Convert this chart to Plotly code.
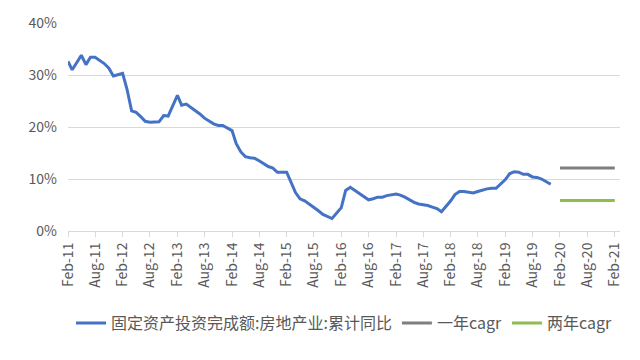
import plotly.graph_objects as go

years = list(range(2011, 2020))
months = [2, 3, 4, 5, 6, 7, 8, 9, 10, 11, 12]  # Jan is merged into Feb

v2011 = [32.6, 31.0, 32.4, 33.8, 32.0, 33.4, 33.4, 32.7, 32.2, 31.3, 29.8]
v2012 = [30.3, 27.3, 23.1, 22.8, 22.0, 21.1, 20.9, 20.9, 21.0, 22.2, 22.1]
v2013 = [26.1, 24.2, 24.4, 23.8, 23.1, 22.5, 21.7, 21.1, 20.6, 20.3, 20.3]
v2014 = [19.3, 16.8, 15.2, 14.3, 14.1, 14.0, 13.5, 12.9, 12.4, 12.1, 11.3]
v2015 = [11.3, 9.3, 7.4, 6.2, 5.8, 5.2, 4.6, 3.9, 3.2, 2.8, 2.4]
v2016 = [4.5, 7.8, 8.4, 7.8, 7.2, 6.6, 6.0, 6.2, 6.5, 6.5, 6.8]
v2017 = [7.1, 6.9, 6.5, 6.0, 5.5, 5.2, 5.1, 4.9, 4.6, 4.3, 3.7]
v2018 = [5.8, 7.0, 7.6, 7.6, 7.4, 7.3, 7.6, 7.9, 8.1, 8.2, 8.2]
v2019 = [9.9, 11.0, 11.4, 11.3, 10.9, 10.9, 10.4, 10.3, 10.0, 9.5, 9.0]
yearly = [v2011, v2012, v2013, v2014, v2015, v2016, v2017, v2018, v2019]

cagr_dates = ["2020-02-01", "2021-02-01"]
cagr1 = [12.1, 12.1]
cagr2 = [5.85, 5.85]

names = ["固定资产投资完成额:房地产业:累计同比", "一年cagr", "两年cagr"]
colors = ["#4472C4", "#7F7F7F", "#8FBC4F"]

dates, values = [], []
for y, vals in zip(years, yearly):
    for m, v in zip(months, vals):
        dates.append(f"{y}-{m:02d}-01")
        values.append(v / 100)

font = "Noto Sans CJK SC, Noto Sans, sans-serif"
fig = go.Figure()
fig.add_trace(go.Scatter(x=dates, y=values, mode="lines", name=names[0],
                         line=dict(color=colors[0], width=3)))
fig.add_trace(go.Scatter(x=cagr_dates, y=[v / 100 for v in cagr1], mode="lines", name=names[1],
                         line=dict(color=colors[1], width=3)))
fig.add_trace(go.Scatter(x=cagr_dates, y=[v / 100 for v in cagr2], mode="lines", name=names[2],
                         line=dict(color=colors[2], width=3)))

fig.update_layout(
    width=640, height=360,
    margin=dict(l=68, r=20, t=19, b=129),
    paper_bgcolor="white", plot_bgcolor="white",
    font=dict(family=font, size=14, color="#595959"),
    showlegend=True,
    legend=dict(orientation="h", x=0.5, xanchor="center", y=-0.443, yanchor="middle",
                font=dict(size=16, color="#595959"), itemwidth=30, tracegroupgap=0),
)
fig.update_xaxes(
    type="date", range=["2011-02-01", "2021-03-08"],
    tick0="2011-02-01", dtick="M6", tickformat="%b-%y", tickangle=-90,
    showgrid=False, showline=True, linecolor="#D9D9D9", linewidth=1,
    ticks="outside", ticklen=5, tickcolor="#D9D9D9",
    tickfont=dict(size=14, color="#595959"),
)
fig.update_yaxes(
    range=[0, 0.4], dtick=0.1, tickformat=".0%",
    showgrid=True, gridcolor="#D9D9D9", gridwidth=1,
    zeroline=False, showline=False, ticks="", ticklabelstandoff=10,
    tickfont=dict(size=14, color="#595959"),
)

fig.write_html("out.html")
